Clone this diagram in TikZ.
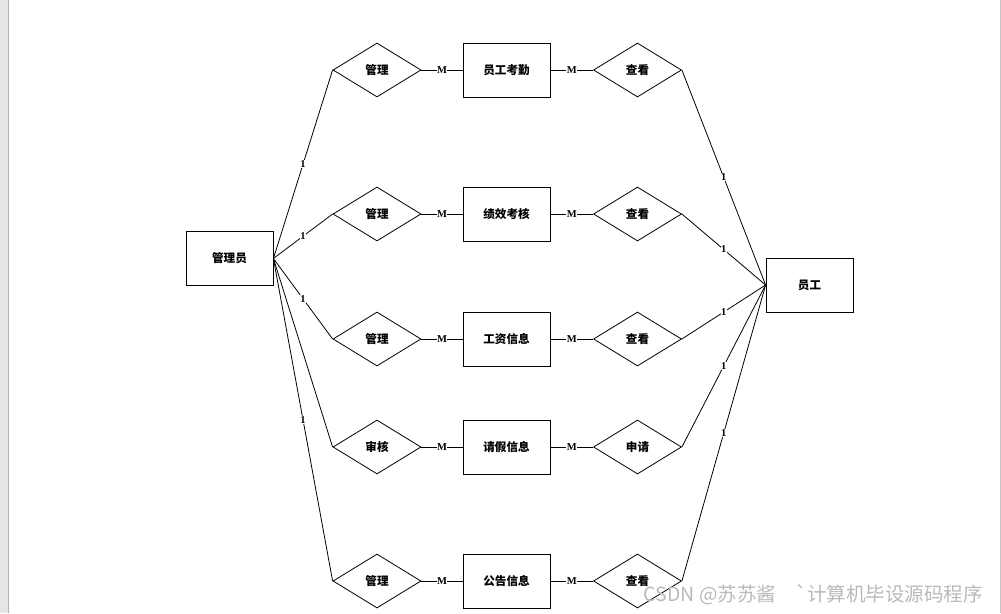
\documentclass[tikz,border=0pt]{standalone}
\usepackage{fontspec}
\setmainfont{Noto Sans CJK SC}
\newfontfamily\numfont{Liberation Serif}
\usetikzlibrary{shapes.geometric}
\definecolor{pagegray}{RGB}{227,230,233}
\definecolor{markgray}{RGB}{185,185,185}

\begin{document}
\begin{tikzpicture}[x=1pt, y=-1pt, line width=0.8pt,
        every node/.style={font=\fontsize{11.6}{13}\selectfont\bfseries, align=center},
        entity/.style={draw, minimum width=87pt, minimum height=54pt, inner sep=0pt},
        relation/.style={draw, diamond, minimum width=88pt, minimum height=54pt, inner sep=0pt},
        card/.style={font=\numfont\fontsize{10.5}{10}\selectfont\bfseries, fill=white, inner sep=0.5pt}
    ]
        \useasboundingbox (0,0) rectangle (1001,613);
        % page edges
        \fill[pagegray] (0,0) rectangle (8,613);
        \draw[gray!60, line width=1pt] (8.5,0) -- (8.5,613);
        \draw[gray!45, line width=1pt] (1000,0) -- (1000,613);

        \node[entity] (admin) at (229.5, 258.5) {管理员};
        \node[entity] (staff) at (809.5, 285)   {员工};

        \node[entity] (att)    at (506.5, 70)  {员工考勤};
        \node[entity] (perf)   at (506.5, 214) {绩效考核};
        \node[entity] (salary) at (506.5, 339) {工资信息};
        \node[entity] (leave)  at (506.5, 447) {请假信息};
        \node[entity] (notice) at (506.5, 581) {公告信息};

        \node[relation] (m1) at (377, 70)  {管理};
        \node[relation] (m2) at (377, 214) {管理};
        \node[relation] (m3) at (377, 339) {管理};
        \node[relation] (m4) at (377, 447) {审核};
        \node[relation] (m5) at (377, 581) {管理};

        \node[relation] (v1) at (637.5, 70)  {查看};
        \node[relation] (v2) at (637.5, 214) {查看};
        \node[relation] (v3) at (637.5, 339) {查看};
        \node[relation] (v4) at (637.5, 447) {申请};
        \node[relation] (v5) at (637.5, 581) {查看};

        % admin side
        \draw (admin.east) -- node[card] {1} (m1.west);
        \draw (admin.east) -- node[card] {1} (m2.west);
        \draw (admin.east) -- node[card] {1} (m3.west);
        \draw (admin.east) -- (m4.west);
        \draw (admin.east) -- node[card] {1} (m5.west);

        \draw (m1.east) -- node[card] {M} (att.west);
        \draw (m2.east) -- node[card] {M} (perf.west);
        \draw (m3.east) -- node[card] {M} (salary.west);
        \draw (m4.east) -- node[card] {M} (leave.west);
        \draw (m5.east) -- node[card] {M} (notice.west);

        % staff side
        \draw (att.east)    -- node[card] {M} (v1.west);
        \draw (perf.east)   -- node[card] {M} (v2.west);
        \draw (salary.east) -- node[card] {M} (v3.west);
        \draw (leave.east)  -- node[card] {M} (v4.west);
        \draw (notice.east) -- node[card] {M} (v5.west);

        \draw (v1.east) -- node[card] {1} (staff.west);
        \draw (v2.east) -- node[card] {1} (staff.west);
        \draw (v3.east) -- node[card] {1} (staff.west);
        \draw (v4.east) -- node[card] {1} (staff.west);
        \draw (v5.east) -- node[card] {1} (staff.west);

        \node[font=\fontsize{19.5}{21}\selectfont, text=markgray, anchor=west] (mark) at (640, 595)
            {CSDN @苏苏酱\quad\textasciigrave 计算机毕设源码程序};
    \end{tikzpicture}
\end{document}
